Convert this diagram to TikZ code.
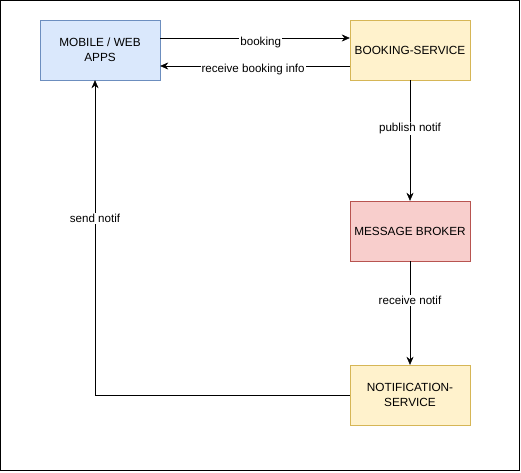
\documentclass[tikz,border=0pt]{standalone}
\usepackage{fontspec}
\setmainfont{Liberation Sans}
\usetikzlibrary{arrows.meta}
\definecolor{blueFill}{HTML}{DAE8FC}
\definecolor{blueLine}{HTML}{6C8EBF}
\definecolor{yellowFill}{HTML}{FFF2CC}
\definecolor{yellowLine}{HTML}{D6B656}
\definecolor{redFill}{HTML}{F8CECC}
\definecolor{redLine}{HTML}{B85450}
\tikzset{
  box/.style={draw, minimum width=120pt, minimum height=60pt, align=center, inner sep=0pt, font=\fontsize{11.8}{14.5}\selectfont},
  lbl/.style={fill=white, inner sep=1pt, font=\fontsize{11.6}{13}\selectfont},
  >={Stealth[length=8pt,width=7pt]}
}
\begin{document}
\begin{tikzpicture}[x=1pt,y=-1pt]
      \useasboundingbox (0,0) rectangle (521,472);
      \draw[line width=1pt] (0.5,0.5) rectangle (519.8,470);
      \node[box, fill=blueFill, draw=blueLine] (apps) at (100,50) {MOBILE / WEB\\APPS};
      \node[box, fill=yellowFill, draw=yellowLine] (booking) at (410,50) {BOOKING-SERVICE};
      \node[box, fill=redFill, draw=redLine] (broker) at (410,231) {MESSAGE BROKER};
      \node[box, fill=yellowFill, draw=yellowLine] (notif) at (410,395) {NOTIFICATION-\\SERVICE};
      \draw[->] (apps.east |- 0,38) -- node[lbl, pos=0.53, yshift=-4pt]{booking} (booking.west |- 0,38);
      \draw[->] (booking.west |- 0,66) -- node[lbl, pos=0.51, yshift=-3pt]{receive booking info} (apps.east |- 0,66);
      \draw[->] (booking) -- node[lbl, pos=0.4]{publish notif} (broker);
      \draw[->] (broker) -- node[lbl, pos=0.38]{receive notif} (notif);
      \draw[->] (notif.west) -| node[lbl, pos=0.78]{send notif} (apps.south -| 95,0);
    \end{tikzpicture}
\end{document}
